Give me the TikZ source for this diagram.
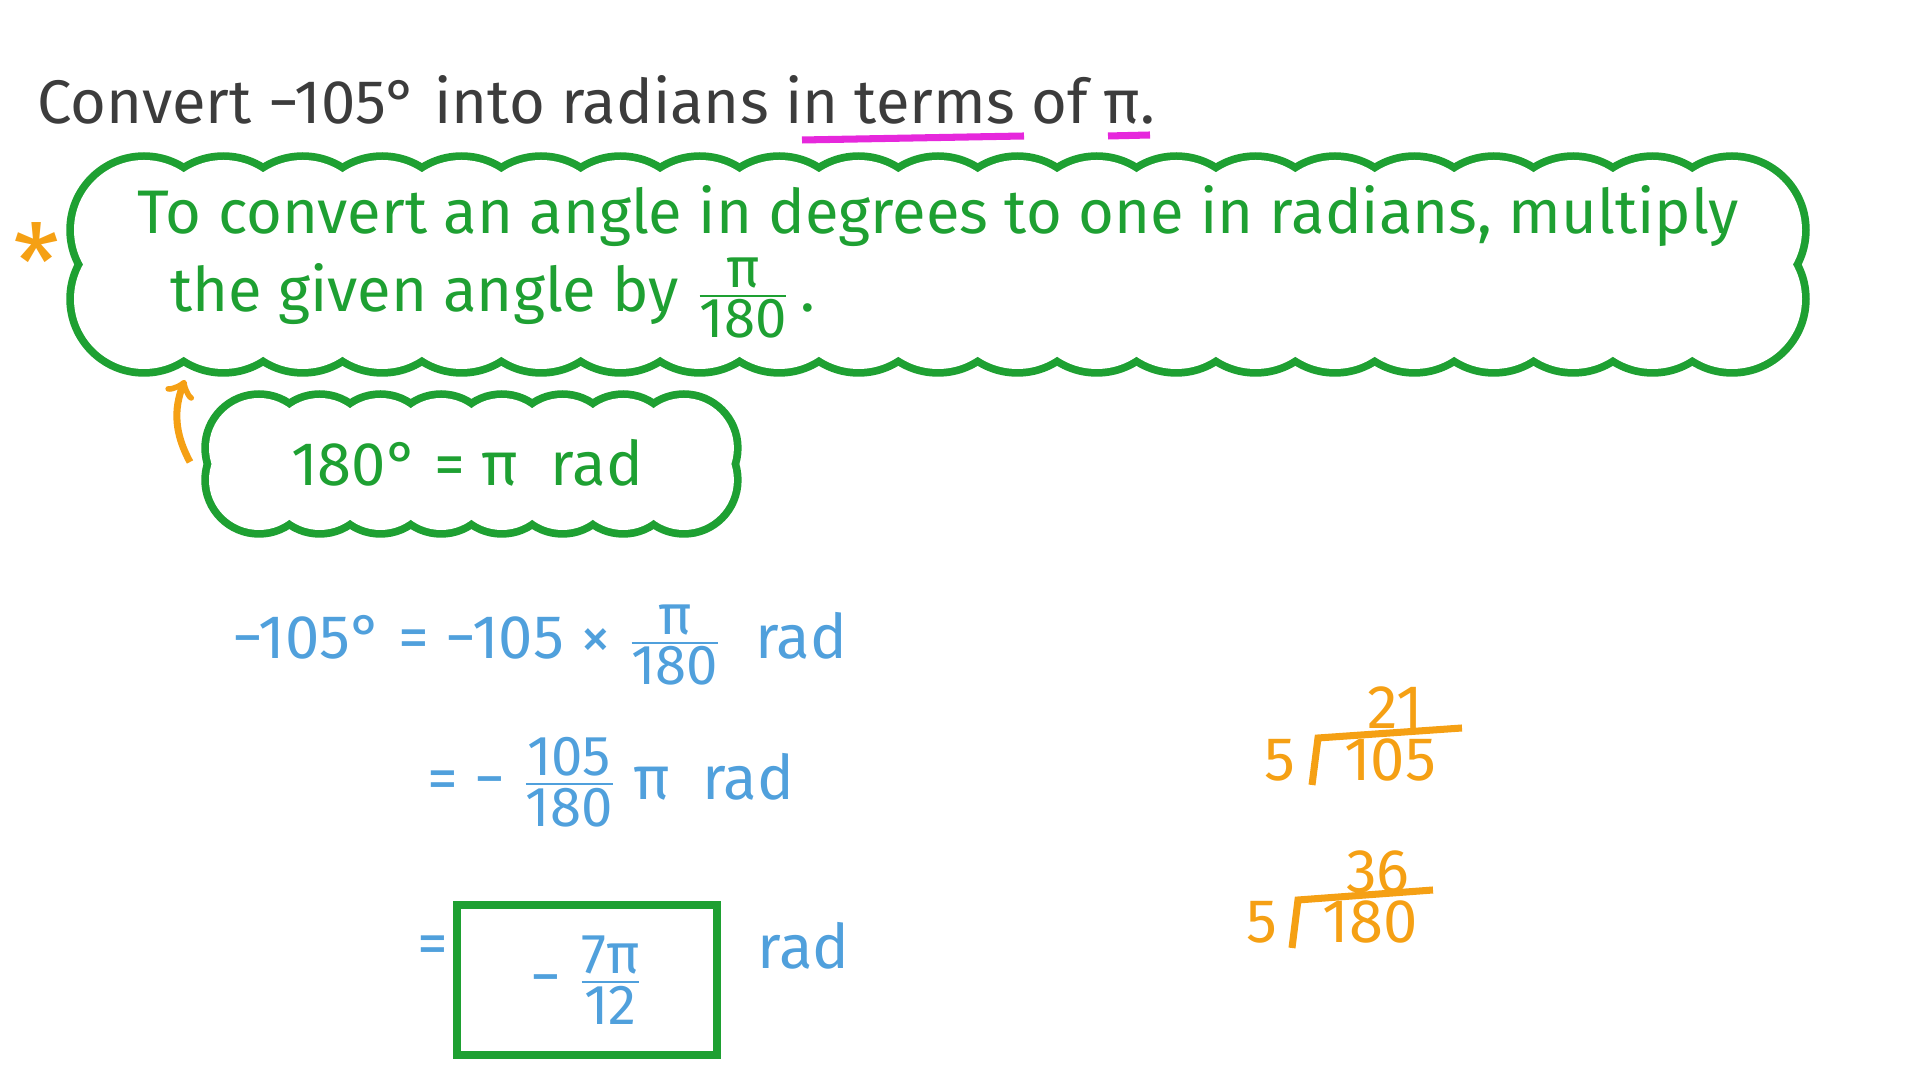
\documentclass[tikz,border=0pt]{standalone}
\usepackage{amsmath}
\usepackage{fontspec}
\setmainfont{Fira Sans}
\definecolor{penGreen}{RGB}{30,160,50}
\definecolor{penBlue}{RGB}{80,160,220}
\definecolor{penOrange}{RGB}{245,160,20}
\definecolor{penPink}{RGB}{230,40,220}
\definecolor{penGrey}{RGB}{60,60,60}
\newcommand{\hfr}[2]{$\tfrac{\text{\fontsize{16}{16}\selectfont #1}}{\text{\fontsize{16}{16}\selectfont #2}}$}
\begin{document}
\begin{tikzpicture}[x=0.01cm,y=-0.01cm,
    big/.style={font=\fontsize{17.5}{22}\selectfont},
    puffline/.style={draw=penGreen,line width=4.4pt},
    pufffill/.style={fill=white},
    blue text/.style={big,text=penBlue,anchor=west},
    work/.style={big,text=penOrange}]
  \useasboundingbox (0,0) rectangle (1920,1080);
  % question
  \node[big,text=penGrey,anchor=west] (title) at (25,100) {Convert −105° into radians in terms of π.};
  \draw[penPink,line width=2pt] (802,140) -- (1024,136);
  \draw[penPink,line width=2pt] (1108,136) -- (1150,135);
  % hint cloud
  \foreach \s in {puffline,pufffill} {
    \foreach \i in {0,...,20} {
      \path[\s] (144+79.4*\i,230) circle (70);
      \path[\s] (144+79.4*\i,299) circle (70);
    }
  }
  \fill[white] (130,200) rectangle (1746,330);
  \node[big,text=penGreen,anchor=west,align=left] (hinttext) at (125,262)
    {To convert an angle in degrees to one in radians, multiply\\ \ \ the given angle by \hfr{π}{180}\,.};
  \node[text=penOrange,font=\fontsize{30}{30}\selectfont] (star) at (37,262) {*};
  % fact cloud
  \foreach \s in {puffline,pufffill} {
    \foreach \i in {0,...,7} {
      \path[\s] (259+60.7*\i,448) circle (50);
      \path[\s] (259+60.7*\i,480) circle (50);
    }
  }
  \fill[white] (250,432) rectangle (693,494);
  \node[big,text=penGreen] (facttext) at (467,463) {180° = π \ rad};
  \coordinate (arrowtail) at (190,462);
  \coordinate (arrowhead) at (185,380);
  \draw[penOrange,line width=2pt,->] (arrowtail) to[bend left=25] (arrowhead);
  % working
  \node[blue text] (line1) at (220,645) {−105° = −105 × \hfr{π}{180} \ rad};
  \node[blue text] (line2) at (415,782) {= − \hfr{105}{180} π \ rad};
  \node[blue text] (eq3) at (405,950) {=};
  \node[big,text=penBlue,draw=penGreen,line width=2.2pt,minimum width=2.6cm,minimum height=1.5cm] (answer) at (587,980) {− \hfr{7π}{12}};
  \node[blue text] (rad3) at (745,946) {rad};
  % side divisions
  \node[work] (d1) at (1280,760) {5};
  \node[work] (q1) at (1390,760) {105};
  \node[work] (r1) at (1395,708) {21};
  \draw[penOrange,line width=2pt] (1312,785) -- (1318,738) -- (1462,728);
  \node[work] (d2) at (1262,922) {5};
  \node[work] (q2) at (1370,922) {180};
  \node[work] (r2) at (1378,872) {36};
  \draw[penOrange,line width=2pt] (1292,948) -- (1298,900) -- (1433,890);
\end{tikzpicture}
\end{document}
